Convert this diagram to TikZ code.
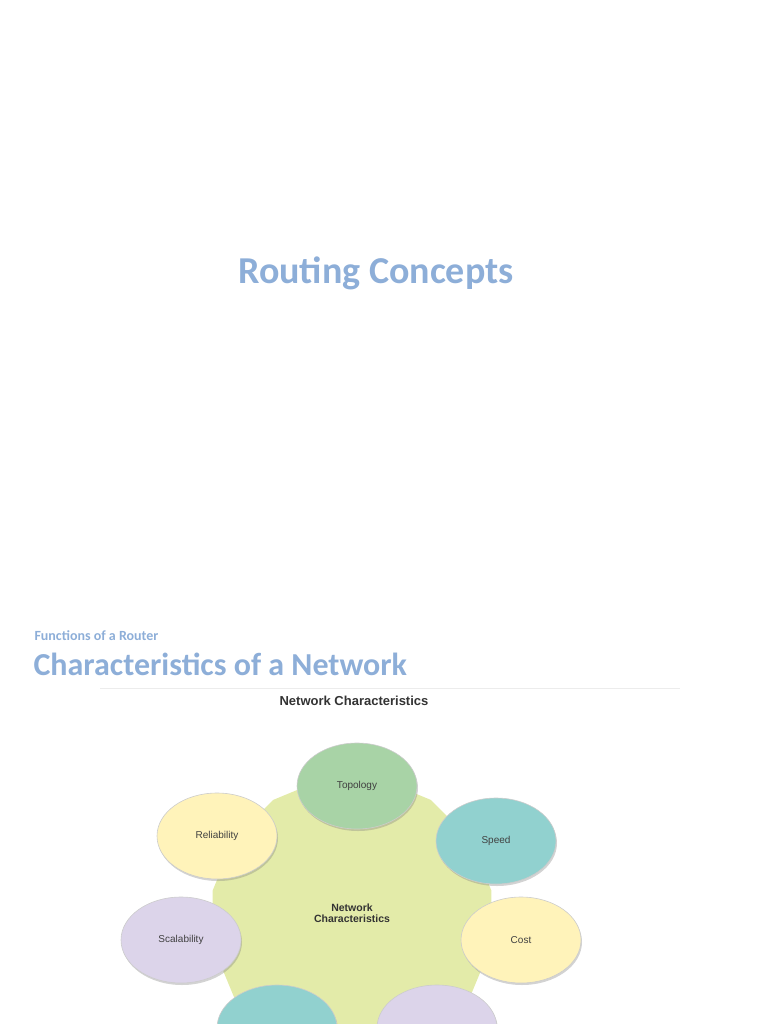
\documentclass[tikz,border=0pt]{standalone}
\usepackage{fontspec}
\setmainfont{Carlito}
\newfontfamily\arialf{Liberation Sans}
\usetikzlibrary{shadows,shapes.geometric}
\definecolor{ttl}{HTML}{8DAED8}
\definecolor{cgreen}{HTML}{E3EBA9}
\definecolor{tgreen}{HTML}{A8D3A6}
\definecolor{teal}{HTML}{91D1CF}
\definecolor{yel}{HTML}{FFF3BA}
\definecolor{purp}{HTML}{DCD4EA}
\tikzset{x=1pt,y=-1pt,
  bub/.style={ellipse,minimum width=120pt,minimum height=86pt,inner sep=0pt,
   draw=gray!40,line width=0.6pt,drop shadow={shadow xshift=1pt,shadow yshift=-2pt,opacity=0.35},font=\arialf\fontsize{10}{12}\selectfont,text=black!75}}
\begin{document}
\begin{tikzpicture}
\useasboundingbox (0,0) rectangle (768,1024);
\clip (0,0) rectangle (768,1024);
\node[font=\bfseries\fontsize{38}{44}\selectfont,text=ttl] (title) at (376,273) {Routing Concepts};
\node[anchor=west,font=\bfseries\fontsize{14}{16}\selectfont,text=ttl] (sub) at (31,636) {Functions of a Router};
\node[anchor=west,font=\bfseries\fontsize{32}{36}\selectfont,text=ttl] (head) at (30,664) {Characteristics of a Network};
\draw[gray!15,line width=1pt] (100,688) -- (680,688);
\node[font=\arialf\bfseries\fontsize{13}{15}\selectfont,text=black!80] (nc) at (354,701) {Network Characteristics};
\node[regular polygon,regular polygon sides=16,minimum size=284pt,fill=cgreen,inner sep=0pt] (c) at (352,918) {};
\node[font=\arialf\bfseries\fontsize{10.5}{11}\selectfont,align=center,text=black!80] (ct) at (352,913) {Network\\Characteristics};
\node[bub,fill=teal] (bl) at (277,1028) {};
\node[bub,fill=purp] (br) at (437,1028) {};
\node[bub,fill=tgreen] (topo) at (357,786) {Topology};
\node[bub,fill=yel] (rel) at (217,836) {Reliability};
\node[bub,fill=teal] (spd) at (496,841) {Speed};
\node[bub,fill=purp] (sca) at (181,940) {Scalability};
\node[bub,fill=yel] (cost) at (521,940) {Cost};
\end{tikzpicture}
\end{document}
